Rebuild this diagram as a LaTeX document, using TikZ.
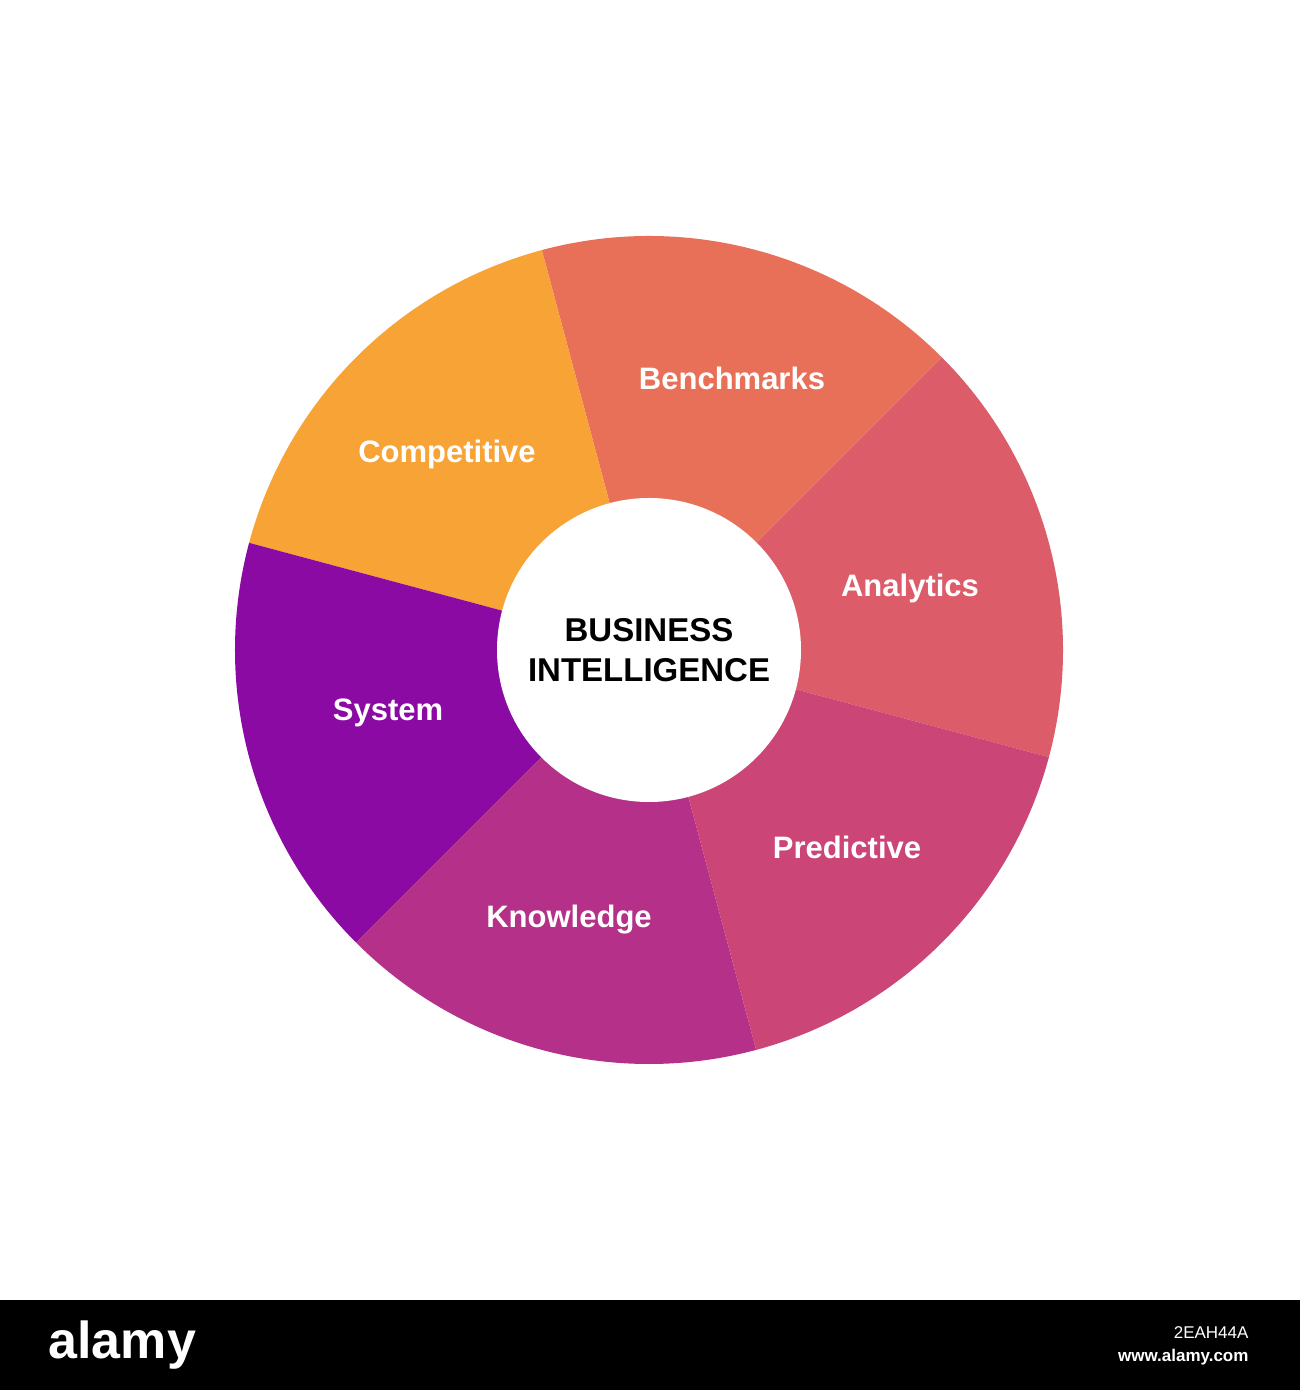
\documentclass[tikz,border=0pt]{standalone}
\usepackage{fontspec}
\setmainfont{Liberation Sans}
\definecolor{cBen}{HTML}{E97058}
\definecolor{cAna}{HTML}{DC5C6A}
\definecolor{cPre}{HTML}{CB4577}
\definecolor{cKno}{HTML}{B53088}
\definecolor{cSys}{HTML}{8A0AA3}
\definecolor{cCom}{HTML}{F7A335}
\begin{document}
\begin{tikzpicture}[x=1pt,y=1pt,
  lbl/.style={text=white,font=\fontsize{31}{36}\selectfont\bfseries,inner sep=0}]
\useasboundingbox (0,0) rectangle (1300,1390);
\fill[white] (0,0) rectangle (1300,1390);
\coordinate (c) at (649,740);
\foreach \a/\col in {-15/cAna,45/cBen,105/cCom,165/cSys,225/cKno,285/cPre}{
  \fill[\col] (c) -- ++(\a:414) arc[start angle=\a,end angle=\a+60,radius=414] -- cycle;
}
\fill[white] (c) circle[radius=152];
\node[lbl] (ben) at (732,1012) {Benchmarks};
\node[lbl] (com) at (447,936) {Competitive};
\node[lbl] (ana) at (910,802) {Analytics};
\node[lbl] (pre) at (847,543) {Predictive};
\node[lbl] (kno) at (569,470) {Knowledge};
\node[lbl] (sys) at (388,677) {System};
\node[align=center,font=\fontsize{33}{40}\selectfont\bfseries,inner sep=0] (bi) at (c) {BUSINESS\\INTELLIGENCE};
\fill[black] (0,0) rectangle (1300,90);
\node[text=white,font=\fontsize{52}{56}\selectfont\bfseries,anchor=west] (al) at (45,45) {alamy};
\node[text=white,font=\fontsize{17}{20}\selectfont,anchor=east] (id) at (1252,57) {2EAH44A};
\node[text=white,font=\fontsize{17}{20}\selectfont\bfseries,anchor=east] (www) at (1252,33) {www.alamy.com};
\end{tikzpicture}
\end{document}
